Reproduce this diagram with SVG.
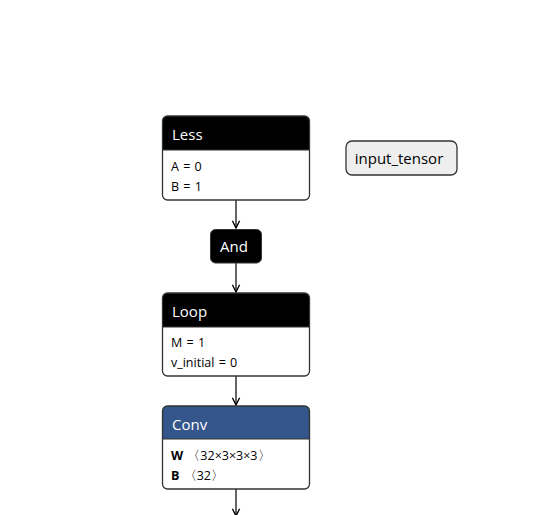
<svg xmlns="http://www.w3.org/2000/svg" width="533" height="515" viewBox="0 0 533 515">
<style>
.hdr{font-family:"Open Sans","Noto Sans",sans-serif;font-size:15px;fill:#fff}
.attr{font-family:"Open Sans","Noto Sans",sans-serif;font-size:12.5px;fill:#000;word-spacing:1px}
.b{font-weight:bold}
.border{fill:none;stroke:#333;stroke-width:1.3}
.edge{stroke:#000;stroke-width:1.2;fill:none}
</style>
<defs>
<marker id="arr" viewBox="0 0 10 10" refX="9" refY="5" markerWidth="9" markerHeight="9" markerUnits="userSpaceOnUse" orient="auto">
<path d="M1,1 L9,5 L1,9" fill="none" stroke="#000" stroke-width="1.5"/>
</marker>
</defs>
<rect width="533" height="515" fill="#fff"/>
<g id="edges">
<line class="edge" x1="236" y1="200" x2="236" y2="228" marker-end="url(#arr)"/>
<line class="edge" x1="236" y1="263" x2="236" y2="292" marker-end="url(#arr)"/>
<line class="edge" x1="236" y1="376" x2="236" y2="405" marker-end="url(#arr)"/>
<line class="edge" x1="236" y1="489" x2="236" y2="516" marker-end="url(#arr)"/>
</g>
<g id="less">
<path d="M162.5,150 V121 a5,5 0 0 1 5,-5 H304.5 a5,5 0 0 1 5,5 V150 Z" fill="#000"/>
<path d="M162.5,150 H309.5 V195 a5,5 0 0 1 -5,5 H167.5 a5,5 0 0 1 -5,-5 Z" fill="#fff"/>
<line x1="162.5" y1="150" x2="309.5" y2="150" stroke="#333" stroke-width="1"/>
<rect class="border" x="162.5" y="116" width="147" height="84" rx="5"/>
<text class="hdr" x="172" y="139.5">Less</text>
<text class="attr" x="171" y="171">A = 0</text>
<text class="attr" x="171" y="191">B = 1</text>
</g>
<g id="input_tensor">
<rect x="346" y="141" width="111" height="34" rx="6" fill="#eee" stroke="#333" stroke-width="1.3"/>
<text x="399" y="164" text-anchor="middle" font-family="'Open Sans','Noto Sans',sans-serif" font-size="15" fill="#000">input_tensor</text>
</g>
<g id="and">
<rect x="210.5" y="229.5" width="51" height="33.5" rx="5" fill="#000" stroke="#333" stroke-width="1"/>
<text class="hdr" x="234" y="252" text-anchor="middle">And</text>
</g>
<g id="loop">
<path d="M162.5,327 V298 a5,5 0 0 1 5,-5 H304.5 a5,5 0 0 1 5,5 V327 Z" fill="#000"/>
<path d="M162.5,327 H309.5 V371 a5,5 0 0 1 -5,5 H167.5 a5,5 0 0 1 -5,-5 Z" fill="#fff"/>
<line x1="162.5" y1="327" x2="309.5" y2="327" stroke="#333" stroke-width="1"/>
<rect class="border" x="162.5" y="293" width="147" height="83" rx="5"/>
<text class="hdr" x="172" y="316.5">Loop</text>
<text class="attr" x="171" y="347">M = 1</text>
<text class="attr" x="171" y="367">v_initial = 0</text>
</g>
<g id="conv">
<path d="M162.5,439 V411 a5,5 0 0 1 5,-5 H304.5 a5,5 0 0 1 5,5 V439 Z" fill="#34568a"/>
<path d="M162.5,439 H309.5 V484 a5,5 0 0 1 -5,5 H167.5 a5,5 0 0 1 -5,-5 Z" fill="#fff"/>
<line x1="162.5" y1="439" x2="309.5" y2="439" stroke="#333" stroke-width="1"/>
<rect class="border" x="162.5" y="406" width="147" height="83" rx="5"/>
<text class="hdr" x="172" y="429.5">Conv</text>
<text class="attr" x="171" y="460"><tspan class="b">W</tspan> 〈32×3×3×3〉</text>
<text class="attr" x="171" y="480"><tspan class="b">B</tspan> 〈32〉</text>
</g>
</svg>
